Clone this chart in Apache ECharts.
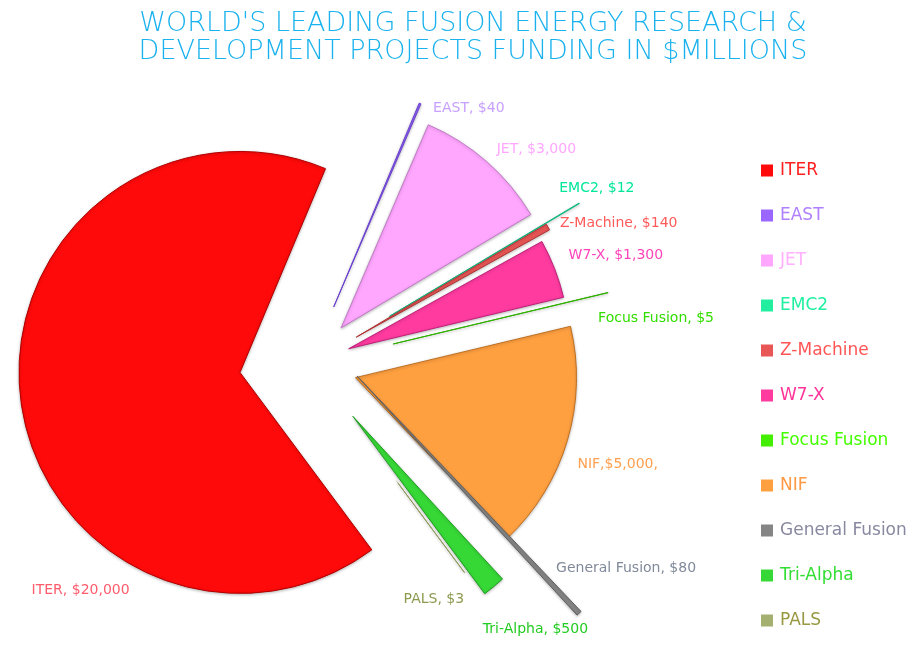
<!DOCTYPE html>
<html>
<head>
<meta charset="utf-8">
<title>Fusion funding</title>
<script src="https://cdn.jsdelivr.net/npm/echarts@6/dist/echarts.min.js"></script>
<style>
  html, body { margin: 0; padding: 0; background: #fff; }
  #chart { width: 911px; height: 662px; }
</style>
</head>
<body>
<div id="chart"></div>
<script>
// data
const names = ["ITER", "EAST", "JET", "EMC2", "Z-Machine", "W7-X", "Focus Fusion", "NIF", "General Fusion", "Tri-Alpha", "PALS"];
const funding = [20000, 40, 3000, 12, 140, 1300, 5, 5000, 80, 500, 3];
const sliceLabels = ["ITER, $20,000", "EAST, $40", "JET, $3,000", "EMC2, $12", "Z-Machine, $140", "W7-X, $1,300",
  "Focus Fusion, $5", "NIF,$5,000,", "General Fusion, $80", "Tri-Alpha, $500", "PALS, $3"];

// looks
const fills = ["#ff0a0a", "#9a66ff", "#ffa6ff", "#22eea0", "#e85656", "#ff3ba0", "#44ee00", "#ffa040", "#858585", "#36d836", "#a3b070"];
const edges = ["#b00000", "#6a40d0", "#c27ac8", "#10b880", "#b03030", "#c0207a", "#30b000", "#c07020", "#606060", "#20a020", "#8c9a5a"];
const labelColors = ["#ff5c6c", "#c8a0ff", "#ffa6ff", "#00e69a", "#ff5a5a", "#ff44bb", "#33dd00", "#ffa050", "#808a9a", "#22cc22", "#8c9a50"];
const legendText = ["#ff2020", "#b080ff", "#ffb0ff", "#20f0a0", "#ff5555", "#ff3399", "#44ff00", "#ff9944", "#8888a0", "#33dd33", "#999944"];
const explode = [70, 62, 48, 93, 54, 42, 86, 48, 0, 68, 39];
const labelShift = [[114, 191], [8, 5], [5, -12], [-25, -15], [7, -4], [9, -13], [-15, 26], [5, 24], [-28, -45], [-16, 43], [-66, 27]];

// the PALS sliver only shows on its outer half in the original
function fadeIn(c) {
  return new echarts.graphic.LinearGradient(0, 0, 1, 1, [
    { offset: 0, color: "rgba(255,255,255,0)" },
    { offset: 0.47, color: "rgba(255,255,255,0)" },
    { offset: 0.5, color: c },
    { offset: 1, color: c }
  ]);
}

const chart = echarts.init(document.getElementById("chart"));

const series = names.map((own, i) => ({
  type: "pie",
  center: own === "General Fusion" ? [357, 376] : [309.5, 364],
  radius: own === "General Fusion" ? 325 : 221,
  startAngle: -53.4,
  selectedMode: "single",
  selectedOffset: explode[i],
  avoidLabelOverlap: false,
  silent: true,
  animation: false,
  labelLine: { show: false, length: 0, length2: 0 },
  labelLayout: { dx: labelShift[i][0], dy: labelShift[i][1], hideOverlap: false },
  data: names.map((n, j) => ({
    name: n,
    value: funding[j],
    selected: j === i,
    itemStyle: j === i
      ? { color: n === "PALS" ? fadeIn(fills[j]) : fills[j],
          borderColor: n === "PALS" ? fadeIn(edges[j]) : edges[j], borderWidth: 1,
          shadowBlur: 3, shadowColor: "rgba(0,0,0,0.25)", shadowOffsetY: 1 }
      : { color: "transparent", borderWidth: 0 },
    label: j === i
      ? { show: true, position: "outside", formatter: sliceLabels[j], color: labelColors[j],
          fontFamily: "DejaVu Sans", fontSize: 14 }
      : { show: false }
  }))
}));

chart.setOption({
  backgroundColor: "#fff",
  title: {
    text: "WORLD'S LEADING FUSION ENERGY RESEARCH &\nDEVELOPMENT PROJECTS FUNDING IN $MILLIONS",
    left: 468,
    top: 5,
    textAlign: "center",
    textStyle: {
      color: "#1ab2ee",
      fontFamily: "DejaVu Sans",
      fontWeight: 200,
      fontSize: 27,
      lineHeight: 28
    }
  },
  legend: {
    orient: "vertical",
    left: 756,
    top: 157,
    itemWidth: 12,
    itemHeight: 12,
    itemGap: 28,
    icon: "rect",
    textStyle: { fontFamily: "DejaVu Sans", fontSize: 17, padding: [0, 0, 0, 2] },
    data: names.map((n, j) => ({
      name: n,
      itemStyle: { color: fills[j], borderWidth: 0 },
      textStyle: { color: legendText[j] }
    }))
  },
  series: series
});
</script>
</body>
</html>
